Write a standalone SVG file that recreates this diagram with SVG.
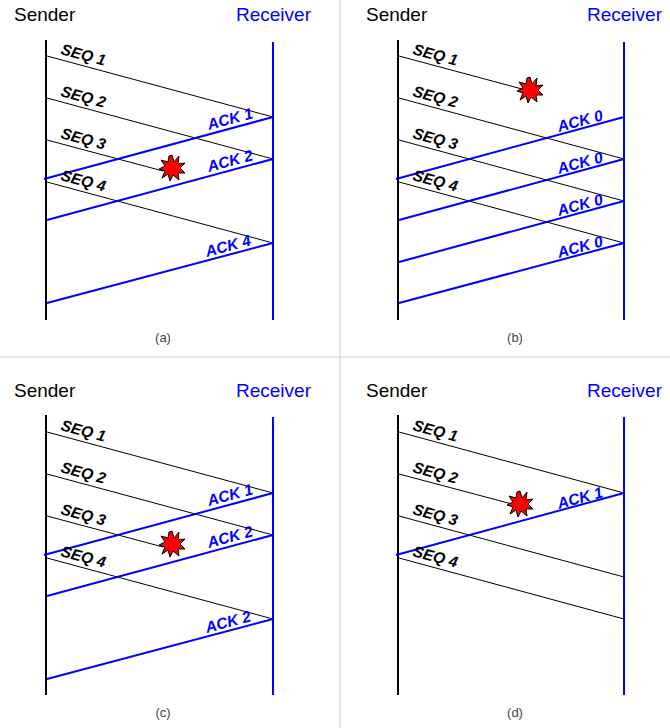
<svg xmlns="http://www.w3.org/2000/svg" width="670" height="728" viewBox="0 0 670 728">
<style>
.t{font-family:"Liberation Sans",Arial,sans-serif}
.hd{font-size:19px}
.lb{font-size:15.5px;font-weight:bold;font-style:italic}
.cap{font-size:13px;fill:#444}
.snd{stroke:#000;stroke-width:2}
.rcv{stroke:#00f;stroke-width:2}
.seq{stroke:#000;stroke-width:1}
.ack{stroke:#00f;stroke-width:2}
.sep{stroke:#ccc;stroke-width:1}
</style>
<defs>
<polygon id="burst" points="0,-13 2,-6 7,-12 6,-4 13,-5 8,0 13,5 6,5 7,12 1,7 -2,13 -4,6 -10,10 -7,3 -13,1 -7,-2 -11,-8 -4,-6 -3,-12" fill="#f00" stroke="#000" stroke-width="1"/>
</defs>
<rect width="670" height="728" fill="#fff"/>
<g id="separators">
<line class="sep" x1="340" y1="0" x2="340" y2="728"/>
<line class="sep" x1="0" y1="357" x2="670" y2="357"/>
</g>

<g id="panel-a">
<g id="a-sender"><line class="snd" x1="46" y1="40" x2="46" y2="320"/><text class="t hd" x="14" y="21">Sender</text></g>
<g id="a-receiver"><line class="rcv" x1="273" y1="42" x2="273" y2="320"/><text class="t hd" x="311" y="21" fill="#00f" text-anchor="end">Receiver</text></g>
<g id="a-connectors">
<line class="seq" x1="47" y1="56" x2="273" y2="117"/>
<line class="seq" x1="47" y1="98" x2="273" y2="159"/>
<line class="seq" x1="47" y1="140" x2="163" y2="171"/>
<line class="seq" x1="47" y1="182" x2="273" y2="243"/>
<line class="ack" x1="273" y1="117" x2="44" y2="179"/>
<line class="ack" x1="273" y1="159" x2="47" y2="220"/>
<line class="ack" x1="273" y1="243" x2="47" y2="303"/>
</g>
<use href="#burst" x="172" y="168"/>
<g class="t lb">
<text transform="translate(60,54) rotate(15)">SEQ 1</text>
<text transform="translate(60,96) rotate(15)">SEQ 2</text>
<text transform="translate(60,138) rotate(15)">SEQ 3</text>
<text transform="translate(60,180) rotate(15)">SEQ 4</text>
<text transform="translate(209,130) rotate(-15)" fill="#00f">ACK 1</text>
<text transform="translate(209,172) rotate(-15)" fill="#00f">ACK 2</text>
<text transform="translate(207,257) rotate(-15)" fill="#00f">ACK 4</text>
</g>
<text class="t cap" x="163" y="342" text-anchor="middle">(a)</text>
</g>

<g id="panel-b" transform="translate(352,0)">
<g id="b-sender"><line class="snd" x1="46" y1="40" x2="46" y2="320"/><text class="t hd" x="14" y="21">Sender</text></g>
<g id="b-receiver"><line class="rcv" x1="272" y1="42" x2="272" y2="320"/><text class="t hd" x="310" y="21" fill="#00f" text-anchor="end">Receiver</text></g>
<g id="b-connectors">
<line class="seq" x1="47" y1="56" x2="170" y2="89"/>
<line class="seq" x1="47" y1="98" x2="272" y2="159"/>
<line class="seq" x1="47" y1="140" x2="272" y2="201"/>
<line class="seq" x1="47" y1="182" x2="272" y2="243"/>
<line class="ack" x1="272" y1="117" x2="44" y2="179"/>
<line class="ack" x1="272" y1="159" x2="47" y2="220"/>
<line class="ack" x1="272" y1="201" x2="47" y2="262"/>
<line class="ack" x1="272" y1="243" x2="47" y2="303"/>
</g>
<use href="#burst" x="178" y="90"/>
<g class="t lb">
<text transform="translate(60,54) rotate(15)">SEQ 1</text>
<text transform="translate(60,96) rotate(15)">SEQ 2</text>
<text transform="translate(60,138) rotate(15)">SEQ 3</text>
<text transform="translate(60,180) rotate(15)">SEQ 4</text>
<text transform="translate(207,132) rotate(-15)" fill="#00f">ACK 0</text>
<text transform="translate(207,174) rotate(-15)" fill="#00f">ACK 0</text>
<text transform="translate(207,216) rotate(-15)" fill="#00f">ACK 0</text>
<text transform="translate(207,258) rotate(-15)" fill="#00f">ACK 0</text>
</g>
<text class="t cap" x="163" y="342" text-anchor="middle">(b)</text>
</g>

<g id="panel-c" transform="translate(0,376)">
<g id="c-sender"><line class="snd" x1="46" y1="39" x2="46" y2="319"/><text class="t hd" x="14" y="21">Sender</text></g>
<g id="c-receiver"><line class="rcv" x1="273" y1="41" x2="273" y2="319"/><text class="t hd" x="311" y="21" fill="#00f" text-anchor="end">Receiver</text></g>
<g id="c-connectors">
<line class="seq" x1="47" y1="56" x2="273" y2="117"/>
<line class="seq" x1="47" y1="98" x2="273" y2="159"/>
<line class="seq" x1="47" y1="140" x2="163" y2="171"/>
<line class="seq" x1="47" y1="182" x2="273" y2="243"/>
<line class="ack" x1="273" y1="117" x2="44" y2="179"/>
<line class="ack" x1="273" y1="159" x2="47" y2="220"/>
<line class="ack" x1="273" y1="243" x2="47" y2="303"/>
</g>
<use href="#burst" x="172" y="168"/>
<g class="t lb">
<text transform="translate(60,54) rotate(15)">SEQ 1</text>
<text transform="translate(60,96) rotate(15)">SEQ 2</text>
<text transform="translate(60,138) rotate(15)">SEQ 3</text>
<text transform="translate(60,180) rotate(15)">SEQ 4</text>
<text transform="translate(209,130) rotate(-15)" fill="#00f">ACK 1</text>
<text transform="translate(209,172) rotate(-15)" fill="#00f">ACK 2</text>
<text transform="translate(207,257) rotate(-15)" fill="#00f">ACK 2</text>
</g>
<text class="t cap" x="163" y="341" text-anchor="middle">(c)</text>
</g>

<g id="panel-d" transform="translate(352,376)">
<g id="d-sender"><line class="snd" x1="46" y1="39" x2="46" y2="319"/><text class="t hd" x="14" y="21">Sender</text></g>
<g id="d-receiver"><line class="rcv" x1="272" y1="41" x2="272" y2="319"/><text class="t hd" x="310" y="21" fill="#00f" text-anchor="end">Receiver</text></g>
<g id="d-connectors">
<line class="seq" x1="47" y1="56" x2="272" y2="117"/>
<line class="seq" x1="47" y1="98" x2="160" y2="128"/>
<line class="seq" x1="47" y1="140" x2="272" y2="201"/>
<line class="seq" x1="47" y1="182" x2="272" y2="243"/>
<line class="ack" x1="272" y1="117" x2="44" y2="179"/>
</g>
<use href="#burst" x="168" y="128"/>
<g class="t lb">
<text transform="translate(60,54) rotate(15)">SEQ 1</text>
<text transform="translate(60,96) rotate(15)">SEQ 2</text>
<text transform="translate(60,138) rotate(15)">SEQ 3</text>
<text transform="translate(60,180) rotate(15)">SEQ 4</text>
<text transform="translate(207,133) rotate(-15)" fill="#00f">ACK 1</text>
</g>
<text class="t cap" x="163" y="341" text-anchor="middle">(d)</text>
</g>
</svg>
